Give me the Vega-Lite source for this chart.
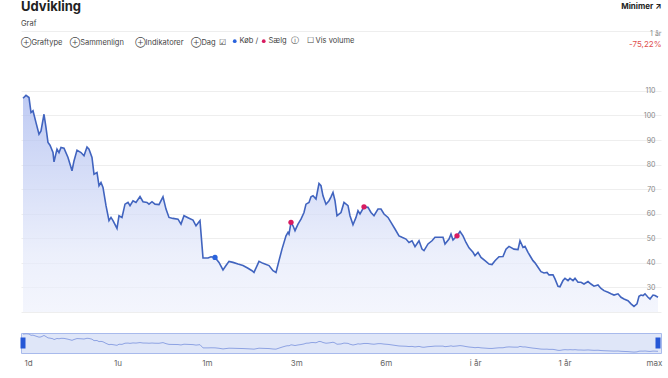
{
  "$schema": "https://vega.github.io/schema/vega-lite/v6.json",
  "padding": {"left": 20, "top": 0, "right": 8, "bottom": 0},
  "background": "white",
  "config": {"font": "Inter", "view": {"stroke": null}, "concat": {"spacing": 19}},
  "datasets": {
    "kurs": [
      {"i":22,"v":107.0},{"i":25,"v":108.2},{"i":28,"v":107.3},{"i":30,"v":101.2},{"i":32,"v":101.9},{"i":35,"v":97.1},{"i":38,"v":92.4},{"i":40,"v":93.7},{"i":43,"v":100.5},{"i":45,"v":95.1},{"i":47,"v":89.0},{"i":49,"v":87.9},{"i":52,"v":84.9},{"i":53,"v":81.1},{"i":56,"v":86.3},{"i":58,"v":84.9},{"i":60,"v":87.0},{"i":63,"v":86.7},{"i":67,"v":82.9},{"i":71,"v":77.5},{"i":73,"v":81.5},{"i":76,"v":85.9},{"i":80,"v":84.9},{"i":83,"v":83.6},{"i":86,"v":87.2},{"i":88,"v":86.3},{"i":91,"v":82.9},{"i":93,"v":76.1},{"i":96,"v":76.8},{"i":98,"v":71.4},{"i":100,"v":72.7},{"i":102,"v":70.7},{"i":105,"v":63.3},{"i":108,"v":57.2},{"i":110,"v":58.5},{"i":112,"v":57.2},{"i":116,"v":54.0},{"i":118,"v":59.2},{"i":121,"v":58.5},{"i":124,"v":63.9},{"i":127,"v":64.6},{"i":129,"v":63.3},{"i":132,"v":65.3},{"i":135,"v":64.6},{"i":139,"v":67.0},{"i":142,"v":64.9},{"i":146,"v":64.6},{"i":148,"v":63.9},{"i":151,"v":64.9},{"i":154,"v":63.9},{"i":158,"v":63.7},{"i":162,"v":66.9},{"i":165,"v":61.9},{"i":168,"v":58.5},{"i":172,"v":58.1},{"i":177,"v":57.8},{"i":180,"v":55.8},{"i":183,"v":59.2},{"i":188,"v":58.2},{"i":192,"v":57.4},{"i":195,"v":55.1},{"i":199,"v":57.2},{"i":202,"v":42.0},{"i":207,"v":42.0},{"i":210,"v":42.5},{"i":214,"v":42.2},{"i":218,"v":40.2},{"i":222,"v":37.1},{"i":225,"v":38.9},{"i":228,"v":40.6},{"i":232,"v":40.2},{"i":237,"v":39.5},{"i":242,"v":38.9},{"i":247,"v":37.8},{"i":251,"v":36.8},{"i":253,"v":36.1},{"i":258,"v":40.6},{"i":262,"v":39.8},{"i":268,"v":38.9},{"i":272,"v":36.8},{"i":275,"v":36.1},{"i":278,"v":40.9},{"i":281,"v":45.6},{"i":285,"v":51.0},{"i":287,"v":52.4},{"i":288,"v":51.7},{"i":290,"v":56.5},{"i":292,"v":55.1},{"i":294,"v":53.1},{"i":297,"v":55.8},{"i":300,"v":57.8},{"i":303,"v":60.5},{"i":305,"v":63.9},{"i":308,"v":64.6},{"i":310,"v":66.9},{"i":312,"v":67.3},{"i":315,"v":66.0},{"i":318,"v":72.3},{"i":320,"v":71.4},{"i":322,"v":67.3},{"i":325,"v":63.9},{"i":328,"v":65.3},{"i":330,"v":66.9},{"i":332,"v":68.7},{"i":334,"v":65.3},{"i":336,"v":59.2},{"i":340,"v":60.5},{"i":343,"v":64.6},{"i":347,"v":63.3},{"i":349,"v":59.2},{"i":352,"v":55.5},{"i":355,"v":58.5},{"i":357,"v":61.2},{"i":359,"v":59.9},{"i":363,"v":62.8},{"i":367,"v":62.6},{"i":370,"v":60.5},{"i":373,"v":59.2},{"i":377,"v":61.9},{"i":380,"v":61.9},{"i":383,"v":59.9},{"i":387,"v":58.5},{"i":390,"v":56.5},{"i":394,"v":53.8},{"i":398,"v":51.0},{"i":401,"v":50.4},{"i":405,"v":49.7},{"i":408,"v":48.3},{"i":411,"v":49.0},{"i":414,"v":46.6},{"i":418,"v":49.0},{"i":421,"v":45.6},{"i":423,"v":45.0},{"i":427,"v":47.7},{"i":431,"v":49.0},{"i":434,"v":50.4},{"i":438,"v":50.4},{"i":442,"v":50.4},{"i":444,"v":47.7},{"i":448,"v":49.7},{"i":450,"v":51.7},{"i":452,"v":49.3},{"i":456,"v":51.0},{"i":459,"v":52.8},{"i":462,"v":51.0},{"i":465,"v":48.3},{"i":468,"v":46.1},{"i":472,"v":44.3},{"i":474,"v":42.9},{"i":477,"v":44.3},{"i":480,"v":42.2},{"i":484,"v":40.9},{"i":488,"v":39.5},{"i":491,"v":39.3},{"i":494,"v":40.9},{"i":498,"v":42.5},{"i":502,"v":42.6},{"i":505,"v":45.6},{"i":508,"v":46.7},{"i":513,"v":45.6},{"i":517,"v":45.4},{"i":519,"v":49.0},{"i":522,"v":46.3},{"i":524,"v":46.7},{"i":527,"v":44.3},{"i":529,"v":42.9},{"i":532,"v":40.9},{"i":534,"v":40.0},{"i":537,"v":38.2},{"i":540,"v":36.4},{"i":543,"v":35.9},{"i":546,"v":36.1},{"i":548,"v":35.1},{"i":552,"v":35.1},{"i":554,"v":33.5},{"i":557,"v":30.5},{"i":559,"v":30.3},{"i":562,"v":32.8},{"i":564,"v":33.7},{"i":567,"v":32.8},{"i":569,"v":33.7},{"i":572,"v":32.8},{"i":574,"v":33.7},{"i":577,"v":32.1},{"i":580,"v":32.1},{"i":583,"v":31.4},{"i":587,"v":32.4},{"i":590,"v":31.4},{"i":593,"v":30.5},{"i":597,"v":31.0},{"i":600,"v":29.6},{"i":603,"v":28.7},{"i":607,"v":28.0},{"i":610,"v":27.4},{"i":613,"v":26.9},{"i":617,"v":27.4},{"i":620,"v":26.0},{"i":623,"v":25.3},{"i":627,"v":24.6},{"i":630,"v":23.3},{"i":633,"v":22.3},{"i":636,"v":23.3},{"i":638,"v":26.4},{"i":640,"v":26.9},{"i":642,"v":26.7},{"i":644,"v":27.4},{"i":647,"v":26.0},{"i":649,"v":25.3},{"i":652,"v":26.9},{"i":654,"v":26.7},{"i":657,"v":26.0}
    ],
    "signaler": [
      {"i":214,"v":42.2,"type":"Køb"},
      {"i":290,"v":56.5,"type":"Sælg"},
      {"i":363,"v":62.8,"type":"Sælg"},
      {"i":456,"v":51.0,"type":"Sælg"}
    ],
    "perioder": [
      {"p":"1d"},{"p":"1u"},{"p":"1m"},{"p":"3m"},{"p":"6m"},{"p":"i år"},{"p":"1 år"},{"p":"max"}
    ]
  },
  "vconcat": [
    {
      "width": 640,
      "height": 226,
      "title": {
        "text": "Udvikling",
        "subtitle": ["Graf", "⊕Graftype\u2002\u2002⊕Sammenlign\u2002\u2002\u2002⊕Indikatorer\u2002\u2002⊕Dag\u2002☑"],
        "anchor": "start",
        "frame": "group",
        "fontSize": 13,
        "fontWeight": "bold",
        "color": "#222222",
        "subtitleFontSize": 7.5,
        "subtitleColor": "#444444",
        "subtitleLineHeight": 19,
        "subtitlePadding": 6,
        "offset": -44
      },
      "layer": [
        {
          "data": {"name": "kurs"},
          "mark": {
            "type": "area",
            "clip": true,
            "line": {"color": "#4164bf", "strokeWidth": 1.6},
            "color": {"gradient": "linear", "x1": 0, "y1": 0, "x2": 0, "y2": 1,
              "stops": [{"offset": 0, "color": "#a4b5ee"}, {"offset": 0.6, "color": "#e4e9fa"}, {"offset": 1, "color": "#f8f9fe"}]}
          },
          "encoding": {
            "x": {"field": "i", "type": "quantitative",
              "scale": {"domain": [20, 660], "nice": false, "zero": false},
              "axis": {"orient": "top", "offset": 55, "labels": false, "ticks": false, "grid": false,
                "domain": true, "domainColor": "#eeeeee",
                "title": "-75,22%", "titleColor": "#e05050", "titleFontSize": 8, "titleFontWeight": "normal",
                "titleX": 640, "titleY": 15, "titleAlign": "right", "titleBaseline": "alphabetic"}},
            "y": {"field": "v", "type": "quantitative",
              "scale": {"domain": [20, 112], "nice": false, "zero": false},
              "axis": {"orient": "right", "values": [20, 30, 40, 50, 60, 70, 80, 90, 100, 110],
                "labelExpr": "datum.value == 20 ? '' : datum.label",
                "labelAlign": "right", "labelPadding": -6, "labelFontSize": 7, "labelColor": "#888888",
                "ticks": false, "domain": false, "gridColor": "#eeeeee",
                "title": "1 år", "titleAngle": 0, "titleAlign": "right", "titleBaseline": "alphabetic",
                "titleX": 0, "titleY": -51, "titleFontSize": 7, "titleFontWeight": "normal", "titleColor": "#888888"}}
          }
        },
        {
          "data": {"name": "signaler"},
          "mark": {"type": "circle", "size": 28, "opacity": 1},
          "encoding": {
            "x": {"field": "i", "type": "quantitative",
              "axis": {"orient": "bottom", "labels": false, "ticks": false, "grid": false, "domain": false,
                "title": "Minimer ↗", "titleColor": "#222222", "titleFontSize": 8, "titleFontWeight": "bold",
                "titleX": 640, "titleY": -304, "titleAlign": "right", "titleBaseline": "alphabetic"}},
            "y": {"field": "v", "type": "quantitative", "axis": null},
            "color": {"field": "type", "type": "nominal",
              "scale": {"domain": ["Køb", "Sælg"], "range": ["#2a63dc", "#d81b60"]},
              "legend": {"orient": "none", "legendX": 210, "legendY": -49, "direction": "horizontal",
                "title": "ⓘ\u2002\u2002☐ Vis volume", "titleOrient": "right", "titleFontSize": 7.5, "titleFontWeight": "normal",
                "titleColor": "#444444", "titlePadding": 4,
                "labelExpr": "datum.label == 'Køb' ? 'Køb /' : datum.label",
                "symbolType": "circle", "symbolSize": 14, "labelFontSize": 7.5, "labelColor": "#444444",
                "labelOffset": 1, "columnPadding": 1}}
          }
        }
      ],
      "resolve": {"axis": {"x": "independent", "y": "independent"}}
    },
    {
      "width": 640,
      "height": 20,
      "view": {"fill": "#dfe6f8", "stroke": "#a8baec", "strokeWidth": 1},
      "layer": [
        {
          "data": {"name": "kurs"},
          "layer": [
            {
              "mark": {"type": "line", "color": "#8ea3e3", "strokeWidth": 1},
              "encoding": {
                "x": {"field": "i", "type": "quantitative", "scale": {"domain": [20, 660], "nice": false, "zero": false}, "axis": null},
                "y": {"field": "v", "type": "quantitative", "scale": {"domain": [18, 112], "nice": false, "zero": false}, "axis": null}
              }
            },
            {
              "mark": {"type": "tick", "color": "#2557d6", "thickness": 5, "size": 11, "orient": "vertical"},
              "encoding": {"x": {"aggregate": "min", "field": "i", "type": "quantitative", "axis": null}}
            },
            {
              "mark": {"type": "tick", "color": "#2557d6", "thickness": 5, "size": 11, "orient": "vertical"},
              "encoding": {"x": {"aggregate": "max", "field": "i", "type": "quantitative", "axis": null}}
            }
          ]
        },
        {
          "data": {"name": "perioder"},
          "mark": {"type": "point", "opacity": 0},
          "encoding": {
            "x": {"field": "p", "type": "ordinal", "sort": null, "scale": {"type": "point", "padding": 0.08},
              "axis": {"orient": "bottom", "ticks": false, "domain": false, "labelAngle": 0, "labelFontSize": 8,
                "labelColor": "#666666", "labelPadding": 6, "title": null}}
          }
        }
      ],
      "resolve": {"scale": {"x": "independent"}}
    }
  ]
}
